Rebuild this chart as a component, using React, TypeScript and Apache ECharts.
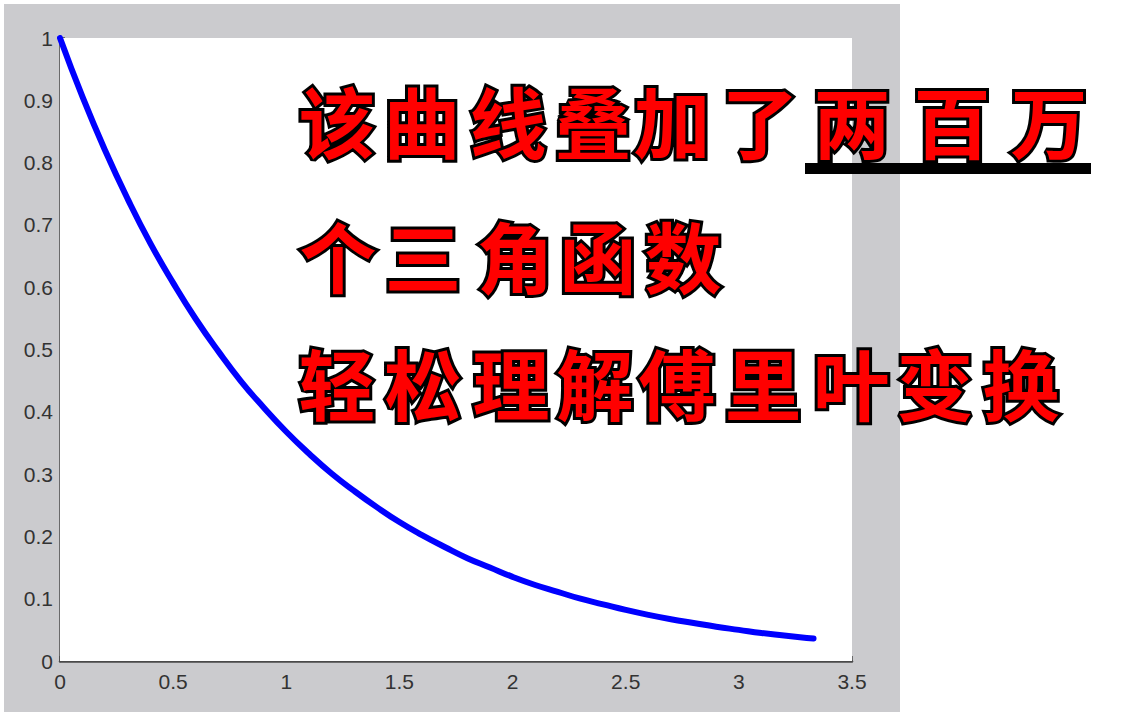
import React, { useEffect, useRef } from "react";
import * as echarts from "echarts";

const xValues = [0, 0.1, 0.2, 0.3, 0.4, 0.5, 0.6, 0.7, 0.8, 0.9, 1.0, 1.1, 1.2, 1.3, 1.4, 1.5, 1.6, 1.7, 1.8, 1.9, 2.0, 2.1, 2.2, 2.3, 2.4, 2.5, 2.6, 2.7, 2.8, 2.9, 3.0, 3.1, 3.2, 3.3, 3.33];
const yValues = [1, 0.905, 0.819, 0.741, 0.67, 0.607, 0.549, 0.497, 0.449, 0.407, 0.368, 0.333, 0.301, 0.273, 0.247, 0.223, 0.202, 0.183, 0.165, 0.15, 0.135, 0.122, 0.111, 0.1, 0.091, 0.082, 0.074, 0.067, 0.061, 0.055, 0.05, 0.045, 0.041, 0.037, 0.036];

const line1 = ["该", "曲", "线", "叠", "加", "了", "两", "百", "万"];
const line2 = ["个", "三", "角", "函", "数"];
const line3 = ["轻", "松", "理", "解", "傅", "里", "叶", "变", "换"];

const line1X = [337, 422, 508, 593, 672, 760, 852, 952, 1049];
const line2X = [338, 423, 515, 598, 683];
const line3X = [337, 423, 511, 595, 677, 763, 851, 935, 1021];

export default function App() {
  const ref = useRef<HTMLDivElement>(null);
  useEffect(() => {
    if (!ref.current) return;
    const chart = echarts.init(ref.current, undefined, { renderer: "svg" });
    const axisColor = "#4a4a4a";
    const labelStyle = {
      color: "#333333",
      fontSize: 21,
      fontFamily: "Liberation Sans, Arial, sans-serif",
    };
    const mkChars = (chars: string[], xs: number[], y: number) =>
      chars.map((c, i) => ({
        type: "text",
        x: xs[i],
        y,
        z: 100,
        style: {
          text: c,
          fill: "#ff0000",
          stroke: "#000000",
          lineWidth: 6,
          fontSize: 77,
          fontWeight: 700,
          fontFamily: "Noto Sans CJK SC",
          textAlign: "center",
          textVerticalAlign: "middle",
        },
      }));
    chart.setOption({
      animation: false,
      backgroundColor: "#ffffff",
      grid: { left: 60, right: 294, top: 38, bottom: 55, show: true, backgroundColor: "#ffffff", borderWidth: 0, z: 1 },
      xAxis: {
        type: "value",
        min: 0,
        max: 3.5,
        interval: 0.5,
        axisLine: { show: true, onZero: false, lineStyle: { color: axisColor, width: 2.5 } },
        axisTick: { show: true, inside: true, length: 5, lineStyle: { color: axisColor, width: 1.5 } },
        axisLabel: { ...labelStyle, margin: 10 },
        splitLine: { show: false },
      },
      yAxis: {
        type: "value",
        min: 0,
        max: 1,
        interval: 0.1,
        axisLine: { show: true, onZero: false, lineStyle: { color: axisColor, width: 2.5 } },
        axisTick: { show: true, inside: true, length: 5, lineStyle: { color: axisColor, width: 1.5 } },
        axisLabel: { ...labelStyle, margin: 7 },
        splitLine: { show: false },
      },
      series: [
        {
          type: "line",
          data: xValues.map((x, i) => [x, yValues[i]]),
          smooth: true,
          showSymbol: false,
          lineStyle: { color: "#0000ff", width: 6, cap: "round", join: "round" },
          z: 5,
        },
      ],
      graphic: [
        {
          type: "rect",
          shape: { x: 4, y: 4, width: 896, height: 708 },
          style: { fill: "#cbcbce" },
          z: -10,
          silent: true,
        },
        ...mkChars(line1, line1X, 119),
        ...mkChars(line2, line2X, 254),
        ...mkChars(line3, line3X, 381),
        {
          type: "rect",
          shape: { x: 805, y: 163, width: 286, height: 11 },
          style: { fill: "#000000" },
          z: 100,
        },
      ],
    });
    return () => chart.dispose();
  }, []);
  return (
    <div
      ref={ref}
      style={{ position: "fixed", left: 0, top: 0, width: 1146, height: 716 }}
    />
  );
}
